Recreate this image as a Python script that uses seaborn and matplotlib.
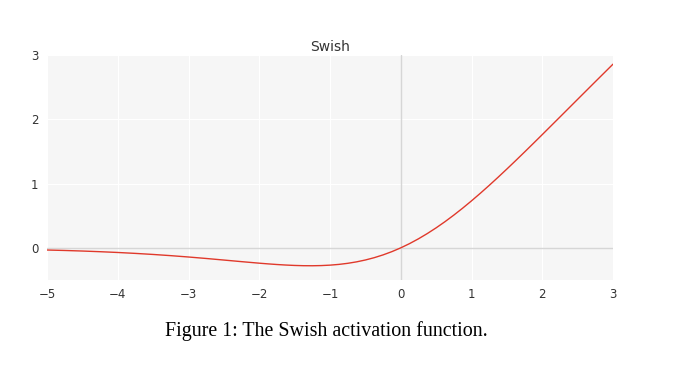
import matplotlib
matplotlib.use("Agg")
import matplotlib.pyplot as plt
import seaborn as sns
import pandas as pd

# Values
x_vals = [-5.0, -4.75, -4.5, -4.25, -4.0, -3.75, -3.5, -3.25, -3.0, -2.75, -2.5,
          -2.25, -2.0, -1.875, -1.75, -1.625, -1.5, -1.375, -1.25, -1.125, -1.0,
          -0.875, -0.75, -0.625, -0.5, -0.375, -0.25, -0.125, 0.0, 0.125, 0.25,
          0.375, 0.5, 0.625, 0.75, 0.875, 1.0, 1.125, 1.25, 1.375, 1.5, 1.625,
          1.75, 1.875, 2.0, 2.25, 2.5, 2.75, 3.0]
y_vals = [-0.0335, -0.0407, -0.0494, -0.0598, -0.0719, -0.0862, -0.1026, -0.1213,
          -0.1423, -0.1652, -0.1897, -0.2145, -0.2384, -0.2493, -0.2591, -0.2673,
          -0.2736, -0.2775, -0.2784, -0.2757, -0.2689, -0.2574, -0.2406, -0.2179,
          -0.1888, -0.1528, -0.1095, -0.0586, 0.0, 0.0664, 0.1405, 0.2223, 0.3112,
          0.4071, 0.5094, 0.6176, 0.7311, 0.8493, 0.9716, 1.0975, 1.2264, 1.3577,
          1.4909, 1.6257, 1.7616, 2.0355, 2.3104, 2.5848, 2.8577]
x_ticks = [-5, -4, -3, -2, -1, 0, 1, 2, 3]
y_ticks = [0, 1, 2, 3]
title = "Swish"
caption = "Figure 1: The Swish activation function."

sns.set_theme(style="darkgrid", rc={
    "axes.facecolor": "#f6f6f6",
    "grid.color": "white",
    "grid.linewidth": 0.8,
})
plt.rcParams['font.family'] = ['DejaVu Sans']

df = pd.DataFrame({"x": x_vals, "y": y_vals})

fig = plt.figure(figsize=(6.74, 3.68), dpi=100)
ax = fig.add_axes([47/674, 1-280/368, (613-47)/674, (280-55)/368])
ax.axhline(0, color="#d6d6d6", lw=1.0, zorder=1)
ax.axvline(0, color="#d6d6d6", lw=1.0, zorder=1)
sns.lineplot(data=df, x="x", y="y", ax=ax, color="#e0392b", lw=1.0, zorder=3)
ax.set_xlim(-5, 3)
ax.set_ylim(-0.5, 3)
ax.set_xticks(x_ticks)
ax.set_yticks(y_ticks)
ax.set_xticklabels(["\u2212%d" % -t if t < 0 else str(t) for t in x_ticks])
ax.tick_params(axis="both", labelsize=8.5, colors="#333333", length=0, pad=6)
ax.set_xlabel("")
ax.set_ylabel("")
ax.set_title(title, fontsize=10, color="#333333", pad=3)
for s in ax.spines.values():
    s.set_visible(False)

fig.text(326/674, 1-331/368, caption, ha="center", va="center",
         family=["Liberation Serif", "DejaVu Serif"], fontsize=14.4, color="black")

fig.savefig("out.png", dpi=100)
